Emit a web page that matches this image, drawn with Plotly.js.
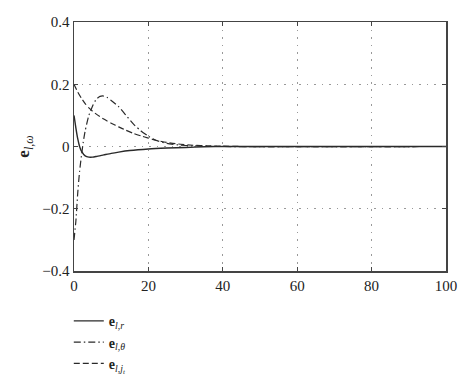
<!DOCTYPE html>
<html><head><meta charset="utf-8">
<script src="https://cdn.plot.ly/plotly-3.0.1.min.js"></script>
<style>body{margin:0;padding:0;background:#fff}#plot{width:474px;height:384px}</style>
</head><body><div id="plot"></div>
<script>
// e_{l,r}
const xR = [0, 0.5, 1, 1.5, 2, 3, 4, 5, 6, 8, 10, 12, 15, 20, 25, 30, 35, 40, 100];
const yR = [0.1, 0.06, 0.025, 0.0, -0.015, -0.03, -0.034, -0.034, -0.032, -0.027, -0.022, -0.018, -0.013, -0.008, -0.005, -0.003, -0.001, 0, 0];
// e_{l,theta}
const xT = [0, 0.5, 1, 1.5, 2, 2.5, 3, 4, 5, 6, 7, 8, 9, 10, 12, 14, 16, 18, 20, 22, 25, 28, 32, 36, 40, 100];
const yT = [-0.30, -0.24, -0.15, -0.08, -0.03, 0.015, 0.05, 0.1, 0.13, 0.152, 0.161, 0.162, 0.157, 0.148, 0.128, 0.1, 0.072, 0.05, 0.033, 0.02, 0.01, 0.005, 0.002, 0.001, 0, 0];
// e_{l,jt}
const xJ = [0, 1, 2, 3, 4, 5, 6, 8, 10, 12, 14, 16, 18, 20, 22, 25, 28, 32, 36, 40, 45, 100];
const yJ = [0.2, 0.175, 0.155, 0.138, 0.124, 0.113, 0.104, 0.088, 0.075, 0.063, 0.052, 0.042, 0.034, 0.027, 0.02, 0.013, 0.008, 0.004, 0.002, 0.001, 0, 0];

const names = ['<b>e</b><sub><i>l</i>,<i>r</i></sub>', '<b>e</b><sub><i>l</i>,<i>θ</i></sub>', '<b>e</b><sub><i>l</i>,<i>j<sub>t</sub></i></sub>'];
const xTicks = [0, 20, 40, 60, 80, 100];
const yTicks = [-0.4, -0.2, 0, 0.2, 0.4];
const yTickText = ['\u22120.4', '\u22120.2', '0', '0.2', '0.4'];

const col = '#2a2a2a';
const traces = [
  {x: xR, y: yR, name: names[0], mode: 'lines', line: {color: col, width: 1.4, dash: 'solid', shape: 'spline', smoothing: 0.6}},
  {x: xT, y: yT, name: names[1], mode: 'lines', line: {color: col, width: 1.2, dash: '7px,3px,1.5px,3px', shape: 'spline', smoothing: 0.6}},
  {x: xJ, y: yJ, name: names[2], mode: 'lines', line: {color: col, width: 1.2, dash: '6px,3px', shape: 'spline', smoothing: 0.6}}
];
const fam = 'Liberation Serif';
const layout = {
  width: 474, height: 384,
  margin: {l: 74, r: 28, t: 22, b: 113},
  paper_bgcolor: '#fff', plot_bgcolor: '#fff',
  font: {family: fam, size: 15, color: '#222'},
  showlegend: true,
  legend: {x: -0.014, xanchor: 'left', yref: 'container', y: 0.205, yanchor: 'top', font: {family: fam, size: 14, color: '#222'}, tracegroupgap: 0, bgcolor: 'rgba(0,0,0,0)'},
  xaxis: {range: [0, 100], tickvals: xTicks, ticktext: xTicks.map(String), ticks: 'inside', ticklen: 4, tickcolor: '#444',
          tickfont: {family: fam, size: 15, color: '#222'},
          showline: true, linecolor: '#444', linewidth: 1.5, mirror: 'ticks', showgrid: true, gridcolor: '#999', griddash: '1.5px,6px', gridwidth: 1.2, zeroline: false},
  yaxis: {range: [-0.4, 0.4], tickvals: yTicks, ticktext: yTickText, ticks: 'inside', ticklen: 4, tickcolor: '#444',
          tickfont: {family: fam, size: 15, color: '#222'},
          showline: true, linecolor: '#444', linewidth: 1.5, mirror: 'ticks', showgrid: true, gridcolor: '#999', griddash: '1.5px,6px', gridwidth: 1.2, zeroline: false,
          title: {text: '<b>e</b><sub><i>l</i>,<i>ω</i></sub>', font: {family: fam, size: 17, color: '#222'}, standoff: 8}}
};
Plotly.newPlot('plot', traces, layout, {displayModeBar: false, staticPlot: true});
</script></body></html>
